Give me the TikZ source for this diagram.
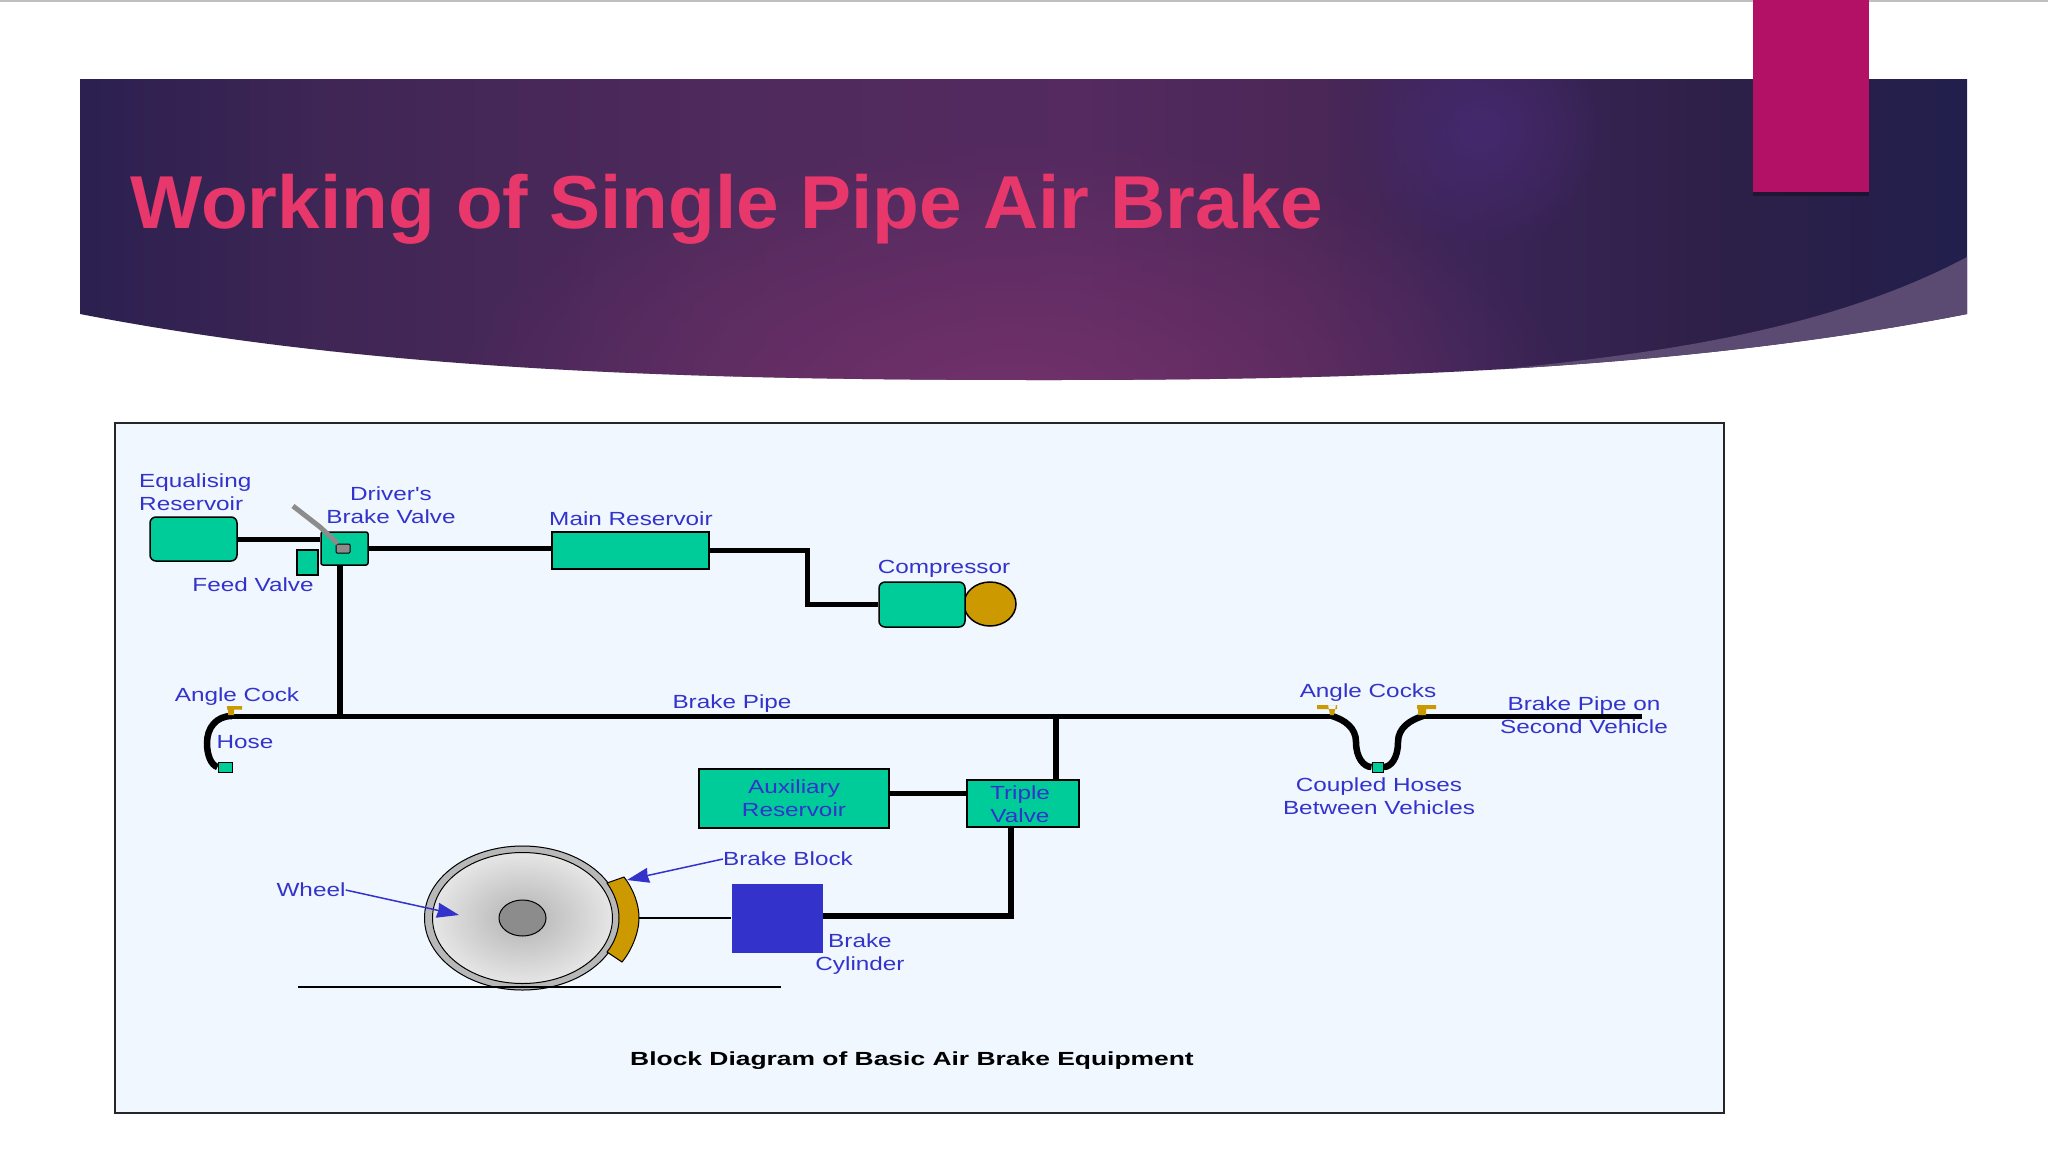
\documentclass[tikz,border=0pt]{standalone}
\usepackage{fontspec}
\setmainfont{Liberation Sans}
\newfontfamily\lblfont[FakeStretch=1.28]{Liberation Sans}
\newfontfamily\capfont[FakeStretch=1.39]{Liberation Sans}
\newfontfamily\titlefont[FakeStretch=1.02]{Liberation Sans}
\usetikzlibrary{shapes.geometric,arrows.meta,fadings}

\definecolor{tealbox}{HTML}{00CC99}
\definecolor{goldpart}{HTML}{CC9900}
\definecolor{lblblue}{HTML}{3333CC}
\definecolor{panelbg}{HTML}{F0F7FF}
\definecolor{ribbon}{HTML}{B31166}
\definecolor{titlepink}{HTML}{E8386B}
\definecolor{wedge}{HTML}{5B4A72}

\definecolor{bandA}{HTML}{2B2050}
\definecolor{bandB}{HTML}{3F2655}
\definecolor{bandC}{HTML}{4F2A5C}
\definecolor{bandD}{HTML}{542A60}
\definecolor{bandE}{HTML}{4B2757}
\definecolor{bandF}{HTML}{3C2558}
\definecolor{bandG}{HTML}{2E2048}
\definecolor{bandH}{HTML}{221F4C}
\definecolor{glow}{HTML}{72316A}
\definecolor{glowtop}{HTML}{45296E}

\tikzfading[name=glowfade,inner color=transparent!0,outer color=transparent!100]

\tikzset{
  lbl/.style={text=lblblue,font=\lblfont\fontsize{19}{23}\selectfont,inner sep=0pt,align=center},
  part/.style={draw=black,line width=1.5pt,fill=tealbox,inner sep=0pt},
  pipe/.style={draw=black,line width=5pt},
  stem/.style={draw=black,line width=6.5pt},
  hose/.style={draw=black,line width=6.5pt},
  cock/.style={fill=goldpart},
  callout/.style={draw=lblblue,line width=1.5pt,-{Stealth[length=22pt,width=15pt,inset=1pt]}},
}

\begin{document}
\begin{tikzpicture}[x=1pt,y=-1pt]
\useasboundingbox (0,0) rectangle (2048,1152);
\fill[white] (0,0) rectangle (2048,1152);
\fill[black!25] (0,0) rectangle (2048,1.5);

% title band
\begin{scope}
  \clip (80,79) -- (1967,79) -- (1967,314) .. controls (1670,372) and (1350,380) .. (1045,380)
    .. controls (700,380) and (380,372) .. (80,314) -- cycle;
  \shade[left color=bandA,right color=bandB] (80,79) rectangle (331,381);
  \shade[left color=bandB,right color=bandC] (330,79) rectangle (731,381);
  \shade[left color=bandC,right color=bandD] (730,79) rectangle (1081,381);
  \shade[left color=bandD,right color=bandE] (1080,79) rectangle (1301,381);
  \shade[left color=bandE,right color=bandF] (1300,79) rectangle (1461,381);
  \shade[left color=bandF,right color=bandG] (1460,79) rectangle (1711,381);
  \shade[left color=bandG,right color=bandH] (1710,79) rectangle (1967,381);
  \fill[glow,path fading=glowfade] (1010,400) ellipse (560 and 260);
  \fill[glowtop,path fading=glowfade] (1480,130) ellipse (130 and 120);
  \fill[wedge] (1967,257) .. controls (1820,335) and (1640,355) .. (1476,372) -- (1967,372) -- cycle;
\end{scope}
\fill[black,opacity=.3] (1753,192) rectangle (1869,196);
\fill[ribbon] (1753,0) rectangle (1869,192);
\node[anchor=base west,inner sep=0pt,text=titlepink,font=\titlefont\bfseries\fontsize{75}{80}\selectfont] (title) at (130,228) {Working of Single Pipe Air Brake};

% diagram panel
\draw[fill=panelbg,draw=black!85,line width=2pt] (115,423) rectangle (1724,1113);

% boxes
\node[part,rounded corners=6pt,minimum width=87pt,minimum height=44pt] (eq) at (193.5,539) {};
\node[part,rounded corners=2pt,minimum width=47pt,minimum height=33pt] (valve) at (344.5,548.5) {};
\node[part,minimum width=21pt,minimum height=25pt] (feed) at (307.5,562.5) {};
\node[part,minimum width=157pt,minimum height=37pt] (main) at (630.5,550.5) {};
\node[draw=black,line width=1.5pt,fill=goldpart,ellipse,inner sep=0pt,minimum width=52pt,minimum height=44pt] (pump) at (990,604) {};
\node[part,rounded corners=6pt,minimum width=86pt,minimum height=45pt] (comp) at (922,604.5) {};
\node[part,minimum width=190pt,minimum height=59pt] (aux) at (794,798.5) {};
\node[part,minimum width=112pt,minimum height=47pt] (triple) at (1023,803.5) {};
\node[fill=lblblue,inner sep=0pt,minimum width=91pt,minimum height=69pt] (cyl) at (777,918.5) {};

% hose ends
\node[part,line width=1pt,minimum width=14pt,minimum height=10pt] (endL) at (225,767) {};
\node[part,line width=1pt,minimum width=11pt,minimum height=10pt] (endM) at (1377.5,767) {};

\coordinate (pipeL) at (232,716);
\coordinate (pipeM) at (1332,716);
\coordinate (pipeN) at (1423,716);
\coordinate (pipeE) at (1642,716);
\coordinate (auxOut) at ([yshift=5.5pt]aux.east);

% pipes
\draw[pipe] (eq.east) -- (valve.west |- eq.east);
\draw[pipe] (valve.east) -- (main.west |- valve.east);
\draw[pipe] (main.east) -- ++(98,0) |- (comp.west);
\draw[pipe] (pipeL) -- (pipeM);
\draw[pipe] (pipeN) -- (pipeE);
\draw[stem] ([xshift=-4.5pt]valve.south) -- ([xshift=-4.5pt]valve.south |- pipeL);
\draw[stem] ([xshift=33pt]triple.north) -- ([xshift=33pt]triple.north |- pipeL);
\draw[pipe] (auxOut) -- (triple.west |- auxOut);
\draw[stem] ([xshift=-12pt]triple.south) |- ([yshift=2.5pt]cyl.east);

% hoses
\draw[hose] (pipeL) .. controls (216,716) and (207,728) .. (207,743)
  .. controls (207,755) and (211,765) .. (endL.west);
\draw[hose] (pipeM) .. controls (1345,720) and (1356,728) .. (1356,742)
  .. controls (1356,758) and (1364,767) .. (endM.west);
\draw[hose] (pipeN) .. controls (1410,720) and (1398,728) .. (1398,742)
  .. controls (1398,758) and (1391,767) .. (endM.east);

% angle cocks
\fill[cock] (227,706) rectangle (242,709.5) (228,706) rectangle (234,715);
\fill[cock] (1317,705) rectangle (1337,709) (1328,705) -- (1336,705) -- (1334,715) -- (1330,715) -- cycle;
\fill[cock] (1417,705) rectangle (1436,709) (1418,705) rectangle (1426,715);

% brake valve handle
\node[draw=black,line width=1pt,fill=black!45,rounded corners=1pt,inner sep=0pt,minimum width=14pt,minimum height=9pt] (pivot) at (343,548.5) {};
\coordinate (handleEnd) at (293,506);
\draw[black!45,line width=5pt] (handleEnd) -- (320,527) -- (pivot);

% wheel
\shade[inner color=black!30,outer color=black!10] (522.5,918) ellipse (90 and 65.5);
\node[ellipse,draw=black,line width=1pt,fill=black!45,inner sep=0pt,minimum width=47pt,minimum height=36pt] (hub) at (522.5,918) {};
\draw[black!28,line width=7pt] (522.5,918) ellipse (94 and 69);
\draw[black,line width=1pt] (522.5,918) ellipse (98 and 72);
\draw[black,line width=1pt] (522.5,918) ellipse (90 and 65.5);
\coordinate (blockOut) at (639,918);
\draw[draw=black,line width=1pt,fill=goldpart] (607,883) -- (624,877) .. controls (634,890) and (639,905) .. (blockOut)
  .. controls (639,932) and (632,950) .. (622,962) -- (607,952) .. controls (615,942) and (619,930) .. (619,918)
  .. controls (619,905) and (614,893) .. cycle;
\draw[black,line width=1.5pt] (blockOut) -- (cyl.west |- blockOut);

% ground
\coordinate (groundL) at (298,987);
\coordinate (groundR) at (781,987);
\draw[black,line width=1.5pt] (groundL) -- (groundR);

% labels
\node[lbl,anchor=west,align=left] (lblEq) at (139,492) {Equalising\\Reservoir};
\node[lbl] (lblValve) at (391,505) {Driver's\\Brake Valve};
\node[lbl] (lblFeed) at (253,585) {Feed Valve};
\node[lbl] (lblCock) at (237,696.5) {Angle Cock};
\node[lbl] (lblHose) at (245,742) {Hose};
\node[lbl] (lblMain) at (631,519) {Main Reservoir};
\node[lbl] (lblComp) at (944,569) {Compressor};
\node[lbl] (lblPipe) at (732,704) {Brake Pipe};
\node[lbl] (lblAux) at (aux) {Auxiliary\\Reservoir};
\node[lbl] (lblTriple) at (1020,804) {Triple\\Valve};
\node[lbl] (lblCocks) at (1368,693) {Angle Cocks};
\node[lbl] (lblSecond) at (1584,715) {Brake Pipe on\\Second Vehicle};
\node[lbl] (lblCoupled) at (1379,796) {Coupled Hoses\\Between Vehicles};
\node[lbl] (lblCyl) at (860,954) {Brake\\Cylinder};
\node[lbl] (lblBlock) at (788,859) {Brake Block};
\node[lbl] (lblWheel) at (311,890) {Wheel};
\node[inner sep=0pt,text=black,font=\capfont\bfseries\fontsize{19}{23}\selectfont] (caption) at (912,1061) {Block Diagram of Basic Air Brake Equipment};

% callouts
\coordinate (wheelTip) at (459,915);
\coordinate (blockTip) at (627,880);
\draw[callout] (lblWheel.east) -- (wheelTip);
\draw[callout] (lblBlock.west) -- (blockTip);
\end{tikzpicture}
\end{document}
